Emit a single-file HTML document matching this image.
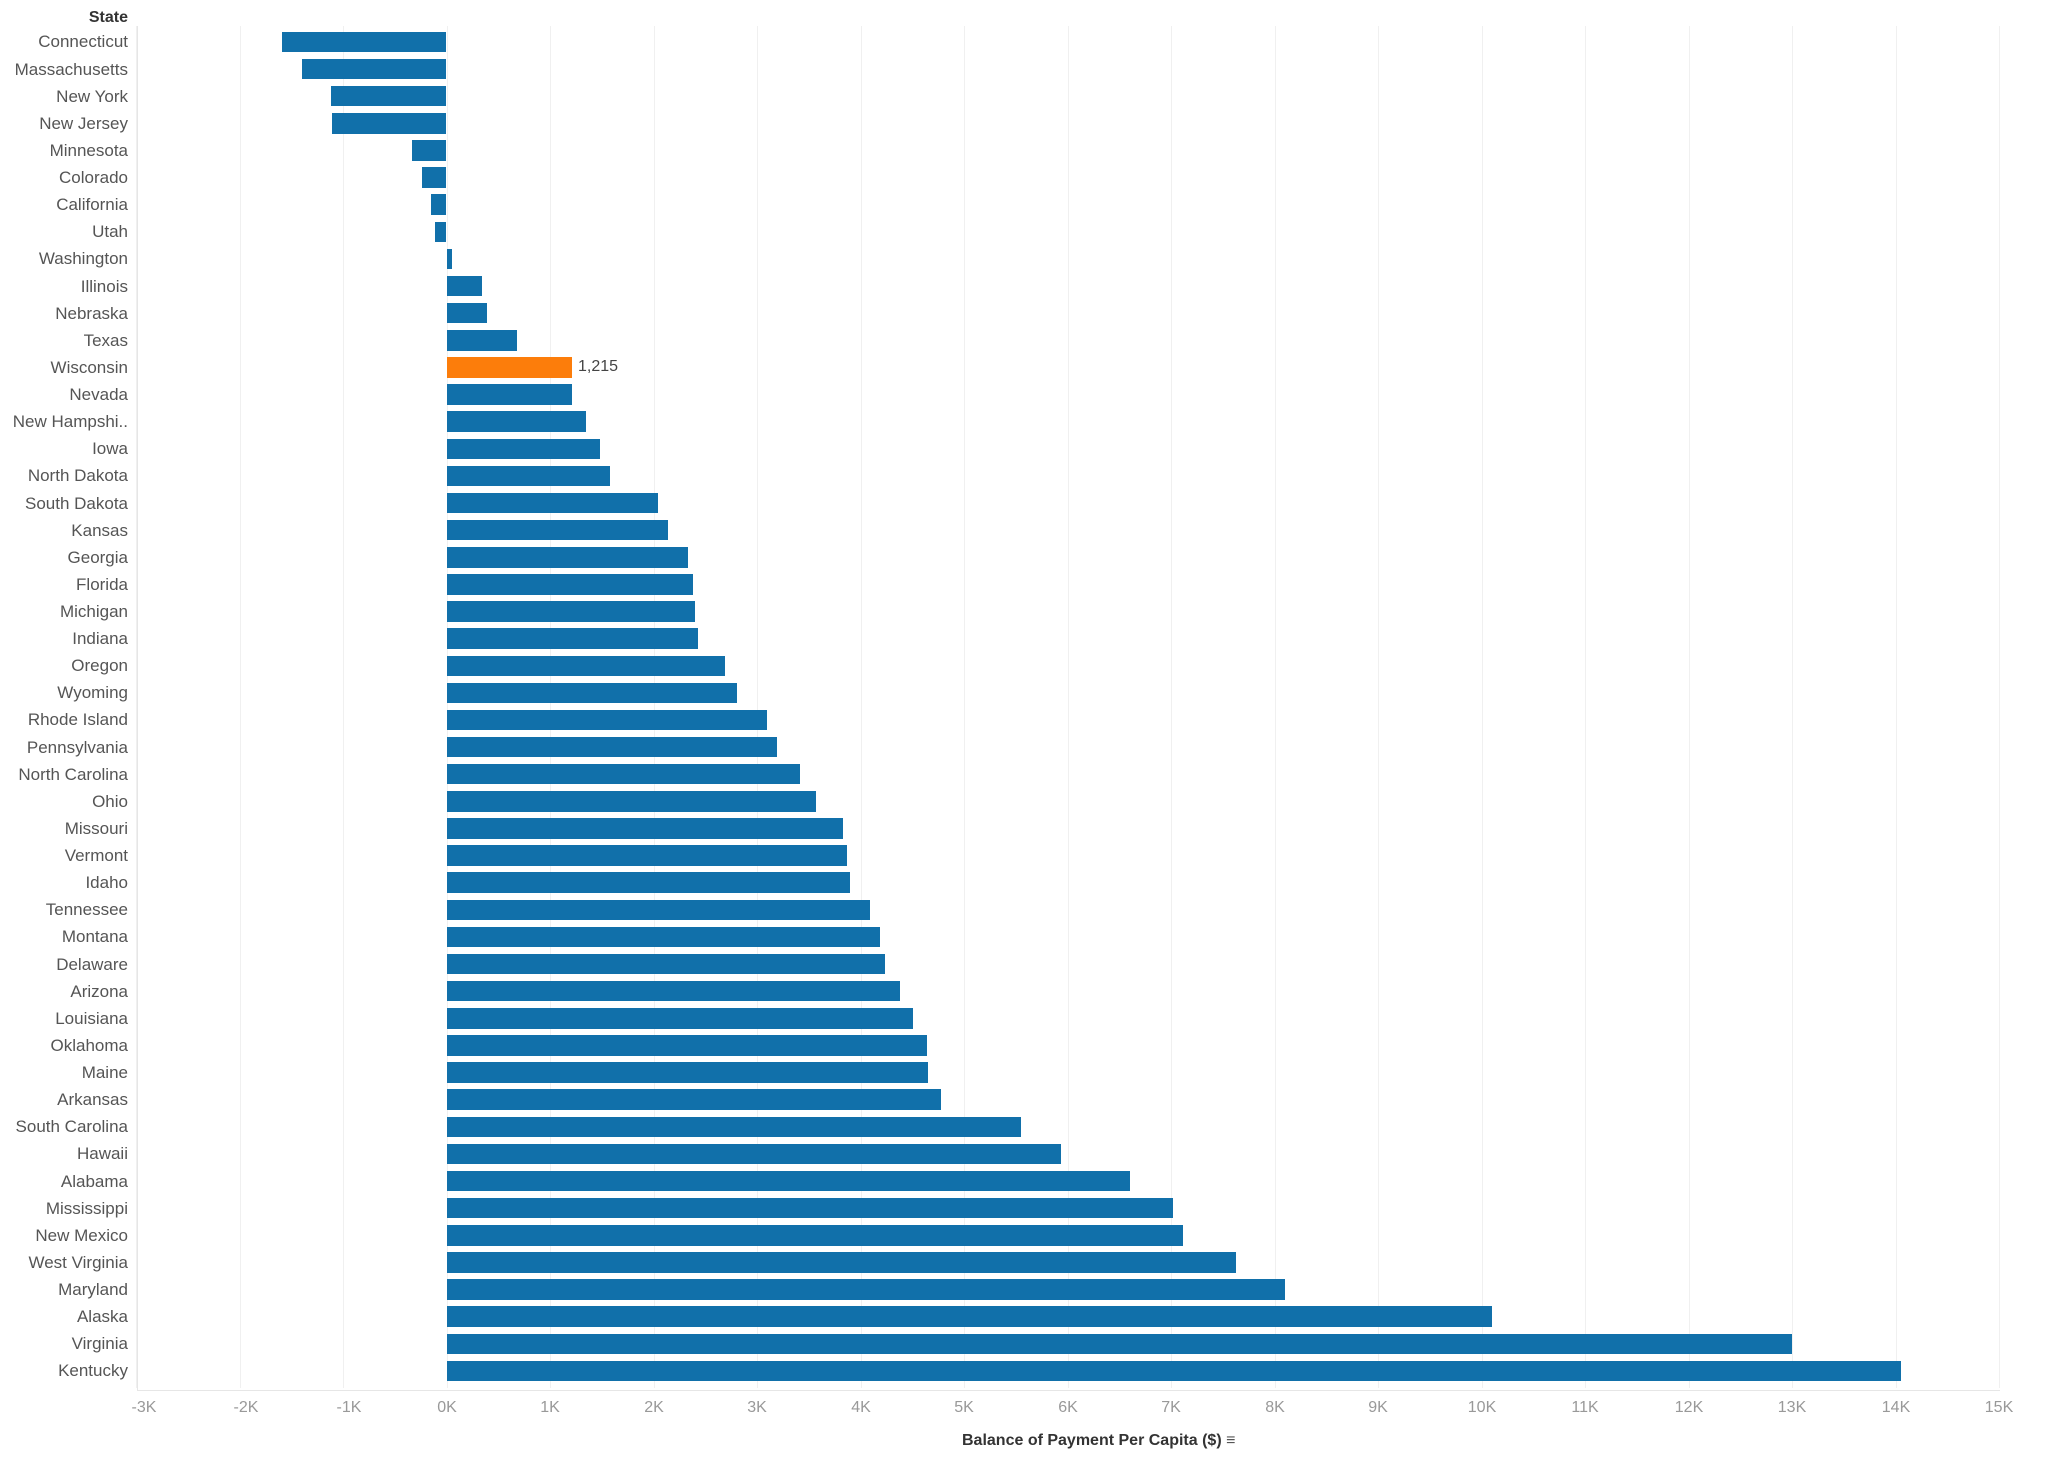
<!DOCTYPE html>
<html><head><meta charset="utf-8"><style>
body{margin:0;width:2048px;height:1459px;background:#fff;position:relative;overflow:hidden;font-family:"Liberation Sans",sans-serif;}
#labs{position:absolute;left:0;top:1.5px;width:130px;height:1400px;}
.lab{position:absolute;left:0;width:128px;text-align:right;font-size:17px;color:#555;height:27.12px;line-height:27.12px;white-space:nowrap;}
.g{position:absolute;top:26px;height:1362px;width:1px;background:#f0f0f0;}
.t{position:absolute;top:1399px;font-size:16px;color:#999;width:60px;margin-left:-30px;text-align:center;}
.b{position:absolute;height:20.5px;background:#1170aa;}
</style></head><body>
<div style="position:absolute;left:0;top:9px;width:128px;text-align:right;font-size:16px;font-weight:bold;color:#333;">State</div>
<div id="labs">
<div class="lab" style="top:26.9px">Connecticut</div>
<div class="lab" style="top:54.0px">Massachusetts</div>
<div class="lab" style="top:81.2px">New York</div>
<div class="lab" style="top:108.3px">New Jersey</div>
<div class="lab" style="top:135.4px">Minnesota</div>
<div class="lab" style="top:162.5px">Colorado</div>
<div class="lab" style="top:189.7px">California</div>
<div class="lab" style="top:216.8px">Utah</div>
<div class="lab" style="top:243.9px">Washington</div>
<div class="lab" style="top:271.0px">Illinois</div>
<div class="lab" style="top:298.1px">Nebraska</div>
<div class="lab" style="top:325.3px">Texas</div>
<div class="lab" style="top:352.4px">Wisconsin</div>
<div class="lab" style="top:379.5px">Nevada</div>
<div class="lab" style="top:406.6px">New Hampshi..</div>
<div class="lab" style="top:433.7px">Iowa</div>
<div class="lab" style="top:460.9px">North Dakota</div>
<div class="lab" style="top:488.0px">South Dakota</div>
<div class="lab" style="top:515.1px">Kansas</div>
<div class="lab" style="top:542.2px">Georgia</div>
<div class="lab" style="top:569.3px">Florida</div>
<div class="lab" style="top:596.5px">Michigan</div>
<div class="lab" style="top:623.6px">Indiana</div>
<div class="lab" style="top:650.7px">Oregon</div>
<div class="lab" style="top:677.8px">Wyoming</div>
<div class="lab" style="top:704.9px">Rhode Island</div>
<div class="lab" style="top:732.1px">Pennsylvania</div>
<div class="lab" style="top:759.2px">North Carolina</div>
<div class="lab" style="top:786.3px">Ohio</div>
<div class="lab" style="top:813.4px">Missouri</div>
<div class="lab" style="top:840.5px">Vermont</div>
<div class="lab" style="top:867.7px">Idaho</div>
<div class="lab" style="top:894.8px">Tennessee</div>
<div class="lab" style="top:921.9px">Montana</div>
<div class="lab" style="top:949.0px">Delaware</div>
<div class="lab" style="top:976.1px">Arizona</div>
<div class="lab" style="top:1003.3px">Louisiana</div>
<div class="lab" style="top:1030.4px">Oklahoma</div>
<div class="lab" style="top:1057.5px">Maine</div>
<div class="lab" style="top:1084.6px">Arkansas</div>
<div class="lab" style="top:1111.7px">South Carolina</div>
<div class="lab" style="top:1138.9px">Hawaii</div>
<div class="lab" style="top:1166.0px">Alabama</div>
<div class="lab" style="top:1193.1px">Mississippi</div>
<div class="lab" style="top:1220.2px">New Mexico</div>
<div class="lab" style="top:1247.3px">West Virginia</div>
<div class="lab" style="top:1274.5px">Maryland</div>
<div class="lab" style="top:1301.6px">Alaska</div>
<div class="lab" style="top:1328.7px">Virginia</div>
<div class="lab" style="top:1355.8px">Kentucky</div>
</div>
<div id="grid"></div>
<div style="position:absolute;left:137px;top:1390px;width:1863px;height:1px;background:#e6e6e6;"></div>
<div style="position:absolute;left:137px;top:26px;width:1px;height:1364px;background:#e6e6e6;"></div>
<div id="ticks">
<div class="t" style="left:144px">-3K</div><div class="t" style="left:246px">-2K</div><div class="t" style="left:349px">-1K</div><div class="t" style="left:447px">0K</div><div class="t" style="left:550px">1K</div><div class="t" style="left:654px">2K</div><div class="t" style="left:757px">3K</div><div class="t" style="left:861px">4K</div><div class="t" style="left:964px">5K</div><div class="t" style="left:1068px">6K</div><div class="t" style="left:1171px">7K</div><div class="t" style="left:1275px">8K</div><div class="t" style="left:1378px">9K</div><div class="t" style="left:1482px">10K</div><div class="t" style="left:1585px">11K</div><div class="t" style="left:1689px">12K</div><div class="t" style="left:1792px">13K</div><div class="t" style="left:1896px">14K</div><div class="t" style="left:1999px">15K</div>
</div>
<div id="bars"></div>
<div style="position:absolute;left:578px;top:357px;font-size:16px;color:#444;line-height:20px;">1,215</div>
<div style="position:absolute;left:962px;top:1432px;font-size:16px;font-weight:bold;color:#333;">Balance of Payment Per Capita ($) <span style="font-weight:bold;color:#555">&#8801;</span></div>
<script>
var v=[-1.59,-1.40,-1.12,-1.11,-0.33,-0.24,-0.15,-0.11,0.05,0.34,0.39,0.68,1.215,1.21,1.35,1.48,1.58,2.04,2.14,2.33,2.38,2.40,2.43,2.69,2.81,3.10,3.19,3.42,3.57,3.83,3.87,3.90,4.09,4.19,4.24,4.38,4.51,4.64,4.65,4.78,5.55,5.94,6.60,7.02,7.12,7.63,8.10,10.10,13.00,14.05];
var h='',g='';
for(var k=-3;k<=15;k++){g+='<div class="g" style="left:'+(446.5+103.5*k)+'px"></div>';}
document.getElementById('grid').innerHTML=g;
for(var i=0;i<v.length;i++){var x0=446.5,x1=446.5+103.5*v[i];var l=Math.min(x0,x1),w=Math.abs(x1-x0);var y=42+27.12*i-10.25;
h+='<div class="b" style="left:'+l+'px;width:'+w+'px;top:'+y+'px;'+(i==12?'background:#fc7d0b;':'')+'"></div>';}
document.getElementById('bars').innerHTML=h;
</script>
</body></html>
